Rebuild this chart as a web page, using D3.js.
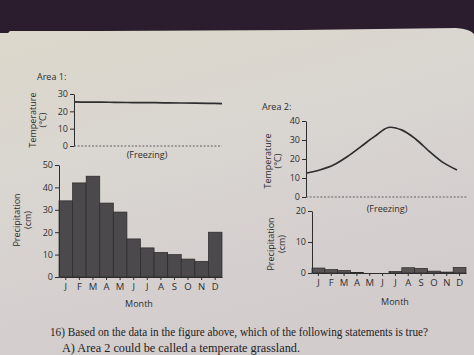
<!DOCTYPE html>
<html><head><meta charset="utf-8">
<script src="https://cdn.jsdelivr.net/npm/d3@7"></script>
<style>body{margin:0;background:#d8d4cc;} svg{display:block}</style>
</head><body>
<svg id="c" width="474" height="355"></svg>
<script>
const months = ["J","F","M","A","M","J","J","A","S","O","N","D"];
const area1Temp = [25.4, 25.3, 25.3, 25.2, 25.1, 25.0, 25.0, 24.9, 24.8, 24.7, 24.6, 24.5];
const area1Precip = [34, 42, 45, 33, 29, 17, 13, 11, 10, 8, 7, 20];
const area2Temp = [12.5, 14.2, 16.8, 21.2, 26.5, 31.9, 36.6, 35.2, 30.4, 23.9, 18.1, 14.2];
const area2Precip = [1.6, 1.1, 0.8, 0.2, 0, 0, 0.5, 1.7, 1.5, 0.6, 0.3, 1.8];
const temp1Ticks = [0, 10, 20, 30];
const precip1Ticks = [0, 10, 20, 30, 40, 50];
const temp2Ticks = [0, 10, 20, 30, 40];
const precip2Ticks = [0, 10, 20];
const questionText = "16) Based on the data in the figure above, which of the following statements is true?";
const answerText = "A) Area 2 could be called a temperate grassland.";

const svg = d3.select("#c");
const defs = svg.append("defs");
const grad = defs.append("linearGradient").attr("id","paper").attr("x1",0).attr("y1",0).attr("x2",0.35).attr("y2",1);
grad.append("stop").attr("offset","0%").attr("stop-color","#dcd8c9");
grad.append("stop").attr("offset","45%").attr("stop-color","#dad6d1");
grad.append("stop").attr("offset","100%").attr("stop-color","#d2cccd");
svg.append("rect").attr("width",474).attr("height",355).attr("fill","url(#paper)");
svg.append("path").attr("d","M0,0 L474,0 L474,34 Q470,29 456,28 L300,30 L100,31 L10,31 L8,33 L0,33 Z").attr("fill","#2b1d2d");

const ink = "#2e2e2e";
const font = "'Open Sans', 'Liberation Sans', sans-serif";
const idx = d3.range(12);

function styleAxis(g, ls){
  g.selectAll("path.domain").attr("stroke", ink).attr("stroke-width", 1);
  g.selectAll(".tick line").attr("stroke", ink).attr("stroke-width", 1);
  g.selectAll("text").attr("fill", ink).attr("font-size", 9).attr("font-family", font)
    .attr("font-weight", 500).attr("letter-spacing", ls || 0);
}
function vtitle(cx, cy, lines, gap){
  const t = svg.append("text").attr("transform",`translate(${cx},${cy}) rotate(-90)`)
    .attr("text-anchor","middle").attr("font-size",9).attr("font-family",font).attr("fill",ink).attr("font-weight",500);
  lines.forEach((l,i)=> t.append("tspan").attr("x",0).attr("y", i*gap).text(l));
}
function label(x, y, txt, anchor){
  svg.append("text").attr("x",x).attr("y",y).attr("text-anchor",anchor||"start")
    .attr("font-size",9).attr("font-family",font).attr("fill",ink).attr("font-weight",500).text(txt);
}

function panel(cfg){
  // temperature
  const ty = d3.scaleLinear().domain([0, cfg.tMax]).range([cfg.tBase, cfg.tTop]);
  const tx = d3.scalePoint().domain(idx).range([cfg.tAxisX, cfg.tEnd]).padding(0);
  const ga = svg.append("g").attr("transform",`translate(${cfg.tAxisX},0)`)
    .call(d3.axisLeft(ty).tickValues(cfg.tTicks).tickSize(4).tickSizeOuter(0).tickPadding(2));
  styleAxis(ga);
  svg.append("line").attr("x1",cfg.tAxisX).attr("x2",cfg.dashEnd).attr("y1",ty(0)).attr("y2",ty(0))
    .attr("stroke","#555").attr("stroke-width",0.9).attr("stroke-dasharray","2,1.6");
  const line = d3.line().x(i=>tx(i)).y(i=>ty(cfg.temp[i])).curve(d3.curveCatmullRom.alpha(0.5));
  svg.append("path").datum(idx).attr("d",line).attr("fill","none").attr("stroke","#2e2e2e").attr("stroke-width",1.7);
  label(cfg.freezeX, ty(0)+cfg.freezeDy, "(Freezing)", "middle");

  // precipitation
  const py = d3.scaleLinear().domain([0, cfg.pMax]).range([cfg.pBase, cfg.pTop]);
  const px = d3.scaleBand().domain(idx).range([cfg.pAxisX, cfg.pEnd]).padding(0);
  svg.append("g").selectAll("rect").data(idx).join("rect")
    .attr("x",i=>px(i)).attr("width",px.bandwidth())
    .attr("y",i=>py(cfg.precip[i])).attr("height",i=>py(0)-py(cfg.precip[i]))
    .attr("fill",cfg.barFill).attr("stroke","#2a2829").attr("stroke-width",0.7);
  const gp = svg.append("g").attr("transform",`translate(${cfg.pAxisX},0)`)
    .call(d3.axisLeft(py).tickValues(cfg.pTicks).tickSize(4).tickSizeOuter(0).tickPadding(2));
  styleAxis(gp);
  const gx = svg.append("g").attr("transform",`translate(0,${cfg.pBase})`)
    .call(d3.axisBottom(px).tickFormat(i=>months[i]).tickSize(3).tickSizeOuter(0).tickPadding(3));
  styleAxis(gx);
  gx.selectAll("text").attr("font-size", 9.5);
  label(cfg.monthX, cfg.monthY, "Month", "middle");
  label(cfg.areaX, cfg.areaY, cfg.area, "start");
  vtitle(cfg.ttX, (cfg.tBase+cfg.tTop)/2 + cfg.ttDy, ["Temperature","(°C)"], 9.5);
  vtitle(cfg.ptX, cfg.ptY, ["Precipitation","(cm)"], 11);
}

panel({
  area:"Area 1:", areaX:37, areaY:80,
  temp:area1Temp, tMax:30, tTicks:temp1Ticks, tBase:146, tTop:94, tAxisX:74, tEnd:222, dashEnd:222,
  freezeX:147, freezeDy:12,
  precip:area1Precip, pMax:50, pTicks:precip1Ticks, pBase:277, pTop:165, pAxisX:59, pEnd:222,
  barFill:"#4b494b", monthX:139, monthY:307,
  ttX:36, ttDy:0, ptX:20, ptY:220
});
panel({
  area:"Area 2:", areaX:262, areaY:110,
  temp:area2Temp, tMax:40, tTicks:temp2Ticks, tBase:197, tTop:121, tAxisX:306, tEnd:457, dashEnd:467,
  freezeX:387, freezeDy:15,
  precip:area2Precip, pMax:20, pTicks:precip2Ticks, pBase:273, pTop:211, pAxisX:312, pEnd:466,
  barFill:"#5a5356", monthX:395, monthY:305,
  ttX:271, ttDy:2, ptX:274, ptY:244
});

svg.append("text").attr("x",50).attr("y",336).attr("font-family","'Liberation Serif','DejaVu Serif',serif")
  .attr("font-size",12).attr("fill","#222").attr("textLength",378).attr("lengthAdjust","spacingAndGlyphs").text(questionText);
svg.append("text").attr("x",62).attr("y",352).attr("font-family","'Liberation Serif','DejaVu Serif',serif")
  .attr("font-size",12).attr("fill","#222").attr("textLength",238).attr("lengthAdjust","spacingAndGlyphs").text(answerText);
</script>
</body></html>
